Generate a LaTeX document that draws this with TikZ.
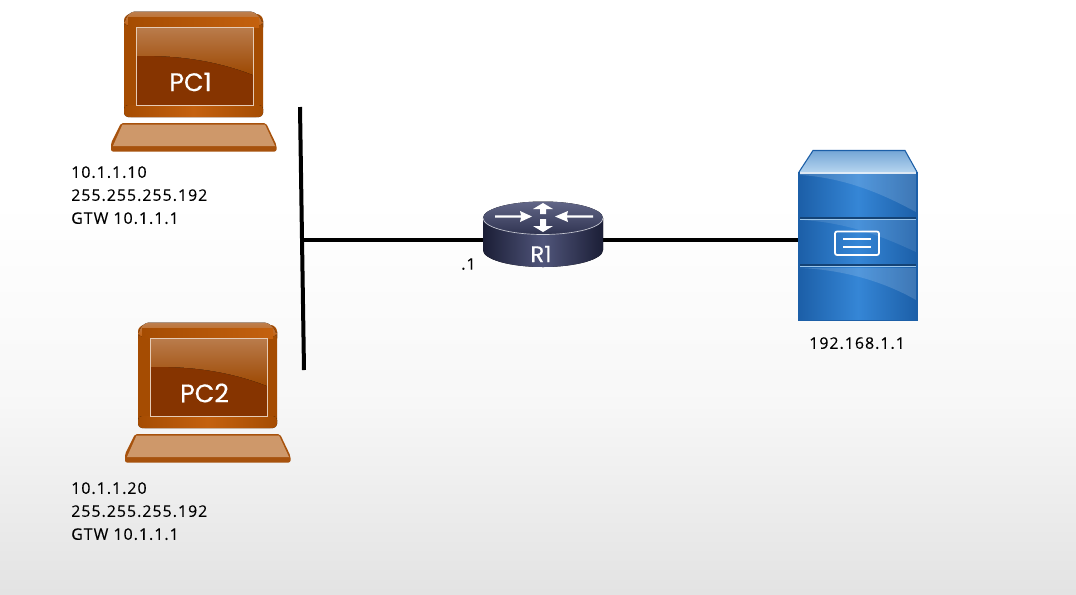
\documentclass[tikz,border=0pt]{standalone}
\usepackage{fontspec}
\setmainfont{Poppins}
\newfontfamily\boldish[FakeBold=0.4]{Poppins}
\newfontfamily\labelfont[LetterSpace=6.5,FakeBold=0.25]{Open Sans}
\usetikzlibrary{calc}
\definecolor{pcdark}{HTML}{863400}
\definecolor{pcmid}{HTML}{A54C02}
\definecolor{pcedge}{HTML}{C4610F}
\definecolor{pckey}{HTML}{CE986A}
\definecolor{rtdark}{HTML}{1B1E36}
\definecolor{rtmid}{HTML}{50557A}
\definecolor{svblue}{HTML}{3586D6}
\definecolor{svdark}{HTML}{1C5FA8}
\definecolor{svlight}{HTML}{9CC6EA}
\tikzset{
  x=0.75pt,y=-0.75pt,
  txt/.style={font=\fontsize{11.9}{17.25}\selectfont\labelfont,align=left,anchor=north west,inner sep=0pt,text=black},
  pclabel/.style={font=\fontsize{19}{20}\selectfont\boldish,text=white,inner sep=0pt},
  wire/.style={line width=3pt,black},
  hit/.style={inner sep=0pt,minimum width=#1,minimum height=30pt}
}
\newcommand{\pcicon}[3]{%
\begin{scope}[shift={(#1,#2)}]
  % monitor frame
  \fill[pcmid,rounded corners=5pt] (124,14) rectangle (263,117);
  \fill[left color=pcmid,right color=pcmid,middle color=pcedge,rounded corners=3pt] (124,105) rectangle (263,117);
  \fill[top color=pckey!75!pcdark,bottom color=pcedge,rounded corners=4pt] (124,22) -- (130,11.5) -- (255,11.5) -- (263,22) -- (263,26) -- (124,26) -- cycle;
  \fill[left color=pcmid,right color=pcedge] (128,17) rectangle (259,27);
  % screen
  \fill[pcdark] (136,27) rectangle (253,105);
  \fill[top color=pckey!72!pcdark,bottom color=pcmid!95!black] (136,27) -- (253,27) -- (253,75) .. controls (215,60) and (175,55) .. (136,56) -- cycle;
  \draw[draw=pckey!50!white,line width=0.7pt] (136,27) rectangle (253,105);
  % keyboard
  \fill[pcedge!85!black,rounded corners=1.5pt] (111,143) -- (121,123) -- (266,123) -- (276.5,145) -- (276.5,151.5) -- (111,151.5) -- cycle;
  \fill[pckey] (113,146) -- (122.5,124.5) -- (265,124.5) -- (275,146) -- cycle;
  \node[pclabel] at (190.5,82) {#3};
\end{scope}}
\begin{document}
\begin{tikzpicture}
\useasboundingbox (0,0) rectangle (1076,594);
% background
\fill[white] (0,0) rectangle (1076,200);
\fill[top color=white,bottom color=black!3] (0,200) rectangle (1076,400);
\fill[top color=black!3,bottom color=black!11] (0,400) rectangle (1076,594);

% connector anchors
\coordinate (bustop) at (300,107);
\coordinate (busbot) at (304,370);
\coordinate (busjoin) at (302,240);
\node[hit=90pt] (r1) at (543,240) {};
\node[hit=90pt] (srv) at (858,240) {};

% connectors
\draw[wire] (bustop) -- (busbot);
\draw[wire] (busjoin) -- (r1.center);
\draw[wire] (r1.center) -- (srv.west);

% PCs
\pcicon{0}{0}{PC1}
\pcicon{14}{311}{PC2}

% router
\fill[left color=rtdark,right color=rtdark,middle color=rtmid]
  (483,218) -- (483,250) arc[start angle=180,end angle=0,x radius=60,y radius=17] -- (603,218) -- cycle;
\fill[top color=rtmid!90!white,bottom color=rtdark!60!rtmid] (543,218) ellipse[x radius=60,y radius=16.5];
\draw[white!70!rtmid,line width=0.5pt] (483,218) arc[start angle=180,end angle=0,x radius=60,y radius=16.5];
\fill[white] (495,215.3) -- (521,215.3) -- (520,211) -- (532,216.5) -- (520,222) -- (521,217.7) -- (495,217.7) -- cycle;
\fill[white] (593,215.3) -- (567,215.3) -- (568,211) -- (555,216.5) -- (568,222) -- (567,217.7) -- (593,217.7) -- cycle;
\fill[white] (543,203) -- (553,209) -- (546,209) -- (546,214) -- (540,214) -- (540,209) -- (533,209) -- cycle;
\fill[white] (543,232) -- (553,226) -- (546,226) -- (546,219) -- (540,219) -- (540,226) -- (533,226) -- cycle;
\node[pclabel,font=\fontsize{17}{18}\selectfont\boldish] (r1label) at (541,254) {R1};

% server
\fill[top color=svlight!70!svdark,bottom color=svlight!75!white] (799,172) -- (813,151) -- (905,151) -- (917,172) -- cycle;
\draw[svdark,line width=0.8pt] (799,172) -- (813,150.5) -- (905,150.5) -- (917,172);
\fill[left color=svdark,right color=svdark,middle color=svblue] (799,172) rectangle (917,320.5);
\fill[white,opacity=.15] (800,175) .. controls (850,178) and (890,198) .. (916,212) -- (916,174) -- (800,174) -- cycle;
\fill[white,opacity=.1] (800,220) .. controls (850,222) and (890,240) .. (916,252) -- (916,220) -- cycle;
\fill[white,opacity=.15] (800,268) .. controls (850,270) and (890,285) .. (916,300) -- (916,268) -- cycle;
\fill[white,opacity=.85] (799,172) rectangle (917,173.5);
\fill[svdark!70!black] (799,216.5) rectangle (917,218.5);
\fill[svlight] (799,218.5) rectangle (917,220);
\fill[svdark!70!black] (799,263.5) rectangle (917,265.5);
\fill[svlight] (799,265.5) rectangle (917,267);
\draw[white,line width=1.3pt,rounded corners=1.5pt] (835,231.5) rectangle (879,255);
\draw[white,line width=1.3pt] (843,239) -- (871,239) (843,247) -- (871,247);
\draw[svdark,line width=0.8pt] (799,172) -- (799,320.5) -- (917,320.5) -- (917,172);

% texts
\node[txt] (pc1text) at (71,166) {10.1.1.10\\255.255.255.192\\GTW 10.1.1.1};
\node[txt] (pc2text) at (71,482) {10.1.1.20\\255.255.255.192\\GTW 10.1.1.1};
\node[txt] (gwtext) at (461,258) {.1};
\node[txt] (srvtext) at (809,337) {192.168.1.1};
\end{tikzpicture}
\end{document}
